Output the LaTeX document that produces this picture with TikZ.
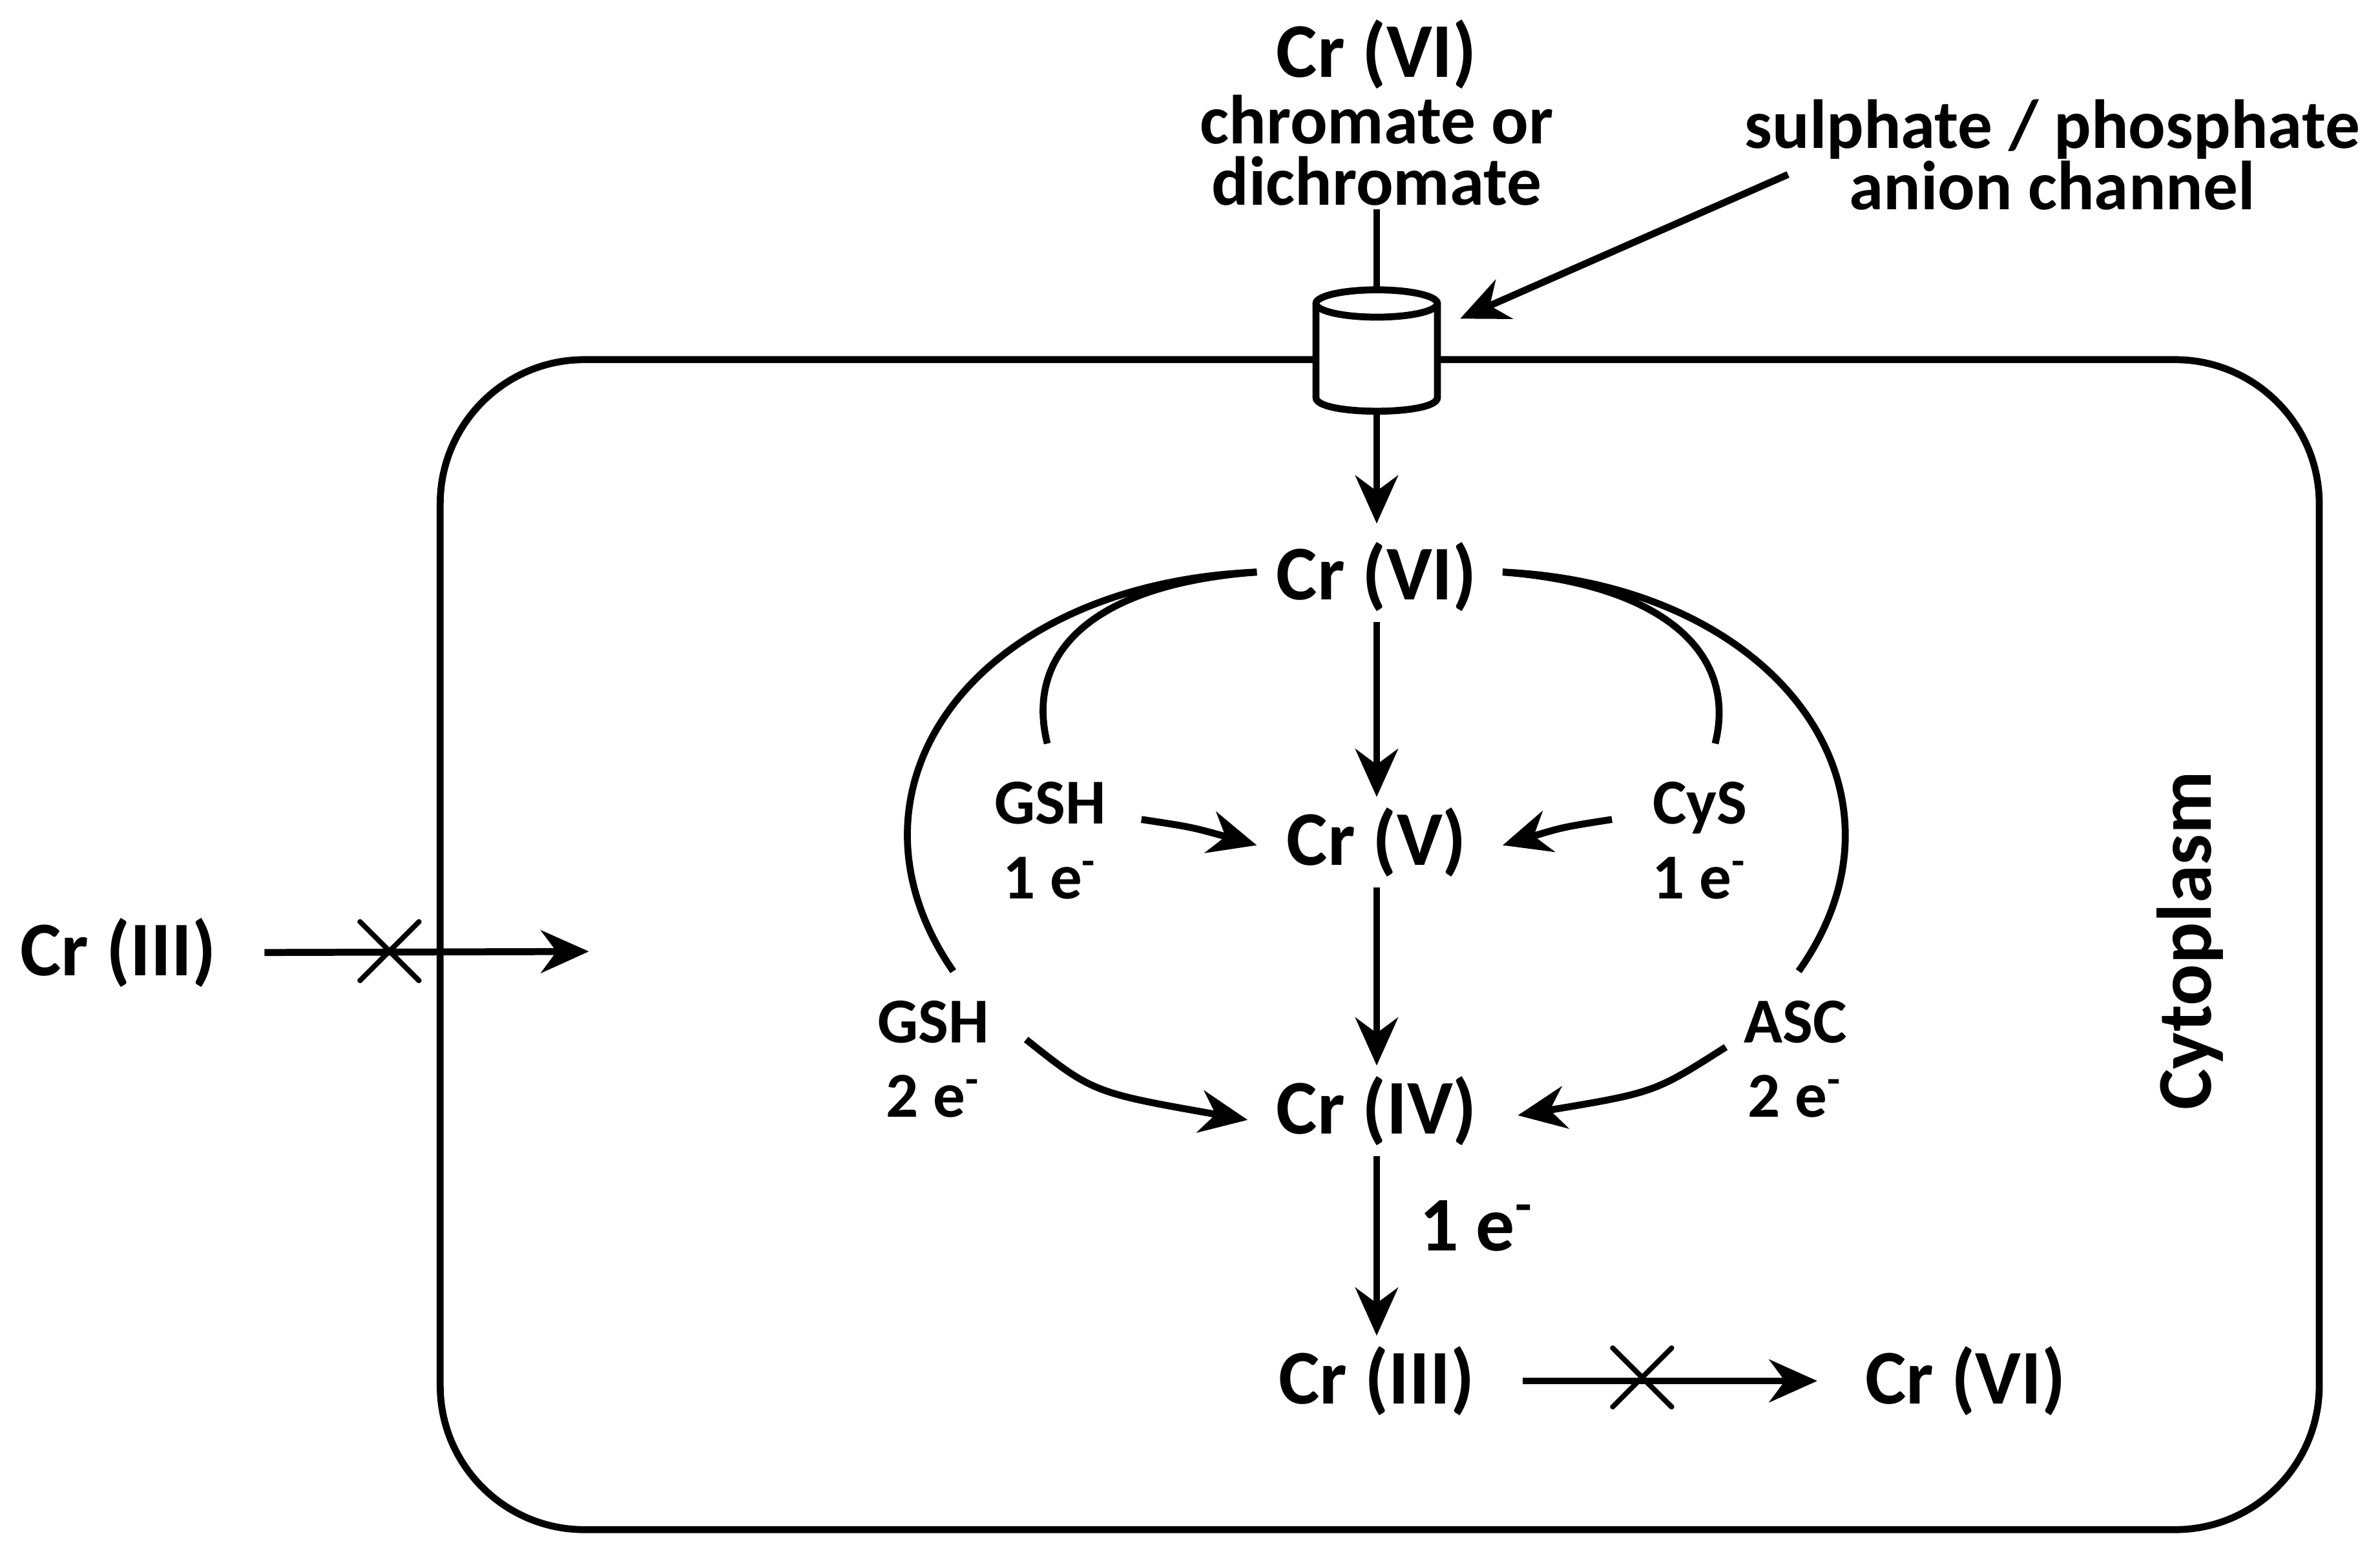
\documentclass[tikz,border=0pt]{standalone}
\usepackage{fontspec}
\setmainfont{Carlito}
\usetikzlibrary{arrows.meta,shapes.geometric}
\begin{document}
\begin{tikzpicture}[x=0.01cm,y=-0.01cm,
  ln/.style={line width=1.3pt},
  ar/.style={ln,-{Stealth[length=9pt,width=8pt]}},
  big/.style={font=\bfseries\fontsize{14.5}{16}\selectfont,inner sep=1pt,outer xsep=8pt,outer ysep=1pt},
  lab/.style={font=\bfseries\fontsize{13}{11.5}\selectfont,align=center,inner sep=1pt},
  sm/.style={font=\bfseries\fontsize{12}{14}\selectfont,align=center,inner sep=1pt},
  cross/.style={font=\fontsize{26}{26}\selectfont,inner sep=0pt}]
\useasboundingbox (0,0) rectangle (1568,1031);
% cell
\draw[ln,rounded corners=0.95cm] (290,237) rectangle (1528,1008);
% channel
\fill[white] (867,200) rectangle (947,262);
\draw[ln,fill=white] (867,200) -- (867,262) .. controls (867,274) and (947,274) .. (947,262) -- (947,200);
\draw[ln,fill=white] (907,200) ellipse[x radius=40,y radius=9];
\coordinate (chtop) at (907,191);
\coordinate (chbot) at (907,272);
\coordinate (chside) at (962,210);
% top labels
\node[big,outer sep=0pt] (top0) at (907,36) {Cr (VI)};
\node[lab] (top) at (907,99) {chromate or\\dichromate};
\node[lab] (chan) at (1352,102) {sulphate / phosphate\\anion channel};
\draw[ln] (907,138) -- (chtop);
\draw[ar] (1178,115) -- (chside);
% chain
\node[big] (c6) at (907,380) {Cr (VI)};
\node[big] (c5) at (907,555) {Cr (V)};
\node[big] (c4) at (907,732) {Cr (IV)};
\node[big] (c3) at (907,910) {Cr (III)};
\node[big] (c6b) at (1295,910) {Cr (VI)};
\node[big] (c3l) at (78,628) {Cr (III)};
\draw[ar] (chbot) -- (907,345);
\draw[ar] (c6) -- (c5);
\draw[ar] (c5) -- (c4);
\draw[ar] (c4) -- (c3);
\node[big,outer sep=0pt] (e1) at (973,808) {1 e\textsuperscript{-}};
\draw[ar] (c3) -- (c6b);
\node[cross] (x1) at (1082,908) {$\times$};
\coordinate (inE) at (388,627);
\draw[ar] (c3l) -- (inE);
\node[cross] (x2) at (257,627) {$\times$};
\node[big,rotate=90,outer sep=0pt] (cyt) at (1443,620) {Cytoplasm};
% reductants
\node[sm] (g1) at (692,554) {GSH\\1 e\textsuperscript{-}};
\node[sm] (cy) at (1120,554) {CyS\\1 e\textsuperscript{-}};
\node[sm] (g2) at (615,698) {GSH\\2 e\textsuperscript{-}};
\node[sm] (as) at (1183,698) {ASC\\2 e\textsuperscript{-}};
\coordinate (L) at (828,377);
\coordinate (R) at (990,377);
\draw[ln] (L) .. controls (720,385) and (675,430) .. (690,490);
\draw[ln] (R) .. controls (1095,385) and (1145,430) .. (1130,490);
\draw[ln] (L) .. controls (640,385) and (545,520) .. (628,640);
\draw[ln] (R) .. controls (1170,385) and (1270,520) .. (1185,640);
\draw[ar] (752,540) .. controls (785,545) .. (828,557);
\draw[ar] (1062,540) .. controls (1030,545) .. (990,557);
\draw[ar] (676,685) .. controls (720,720) .. (822,738);
\draw[ar] (1137,690) .. controls (1090,720) .. (1000,735);
\end{tikzpicture}
\end{document}
